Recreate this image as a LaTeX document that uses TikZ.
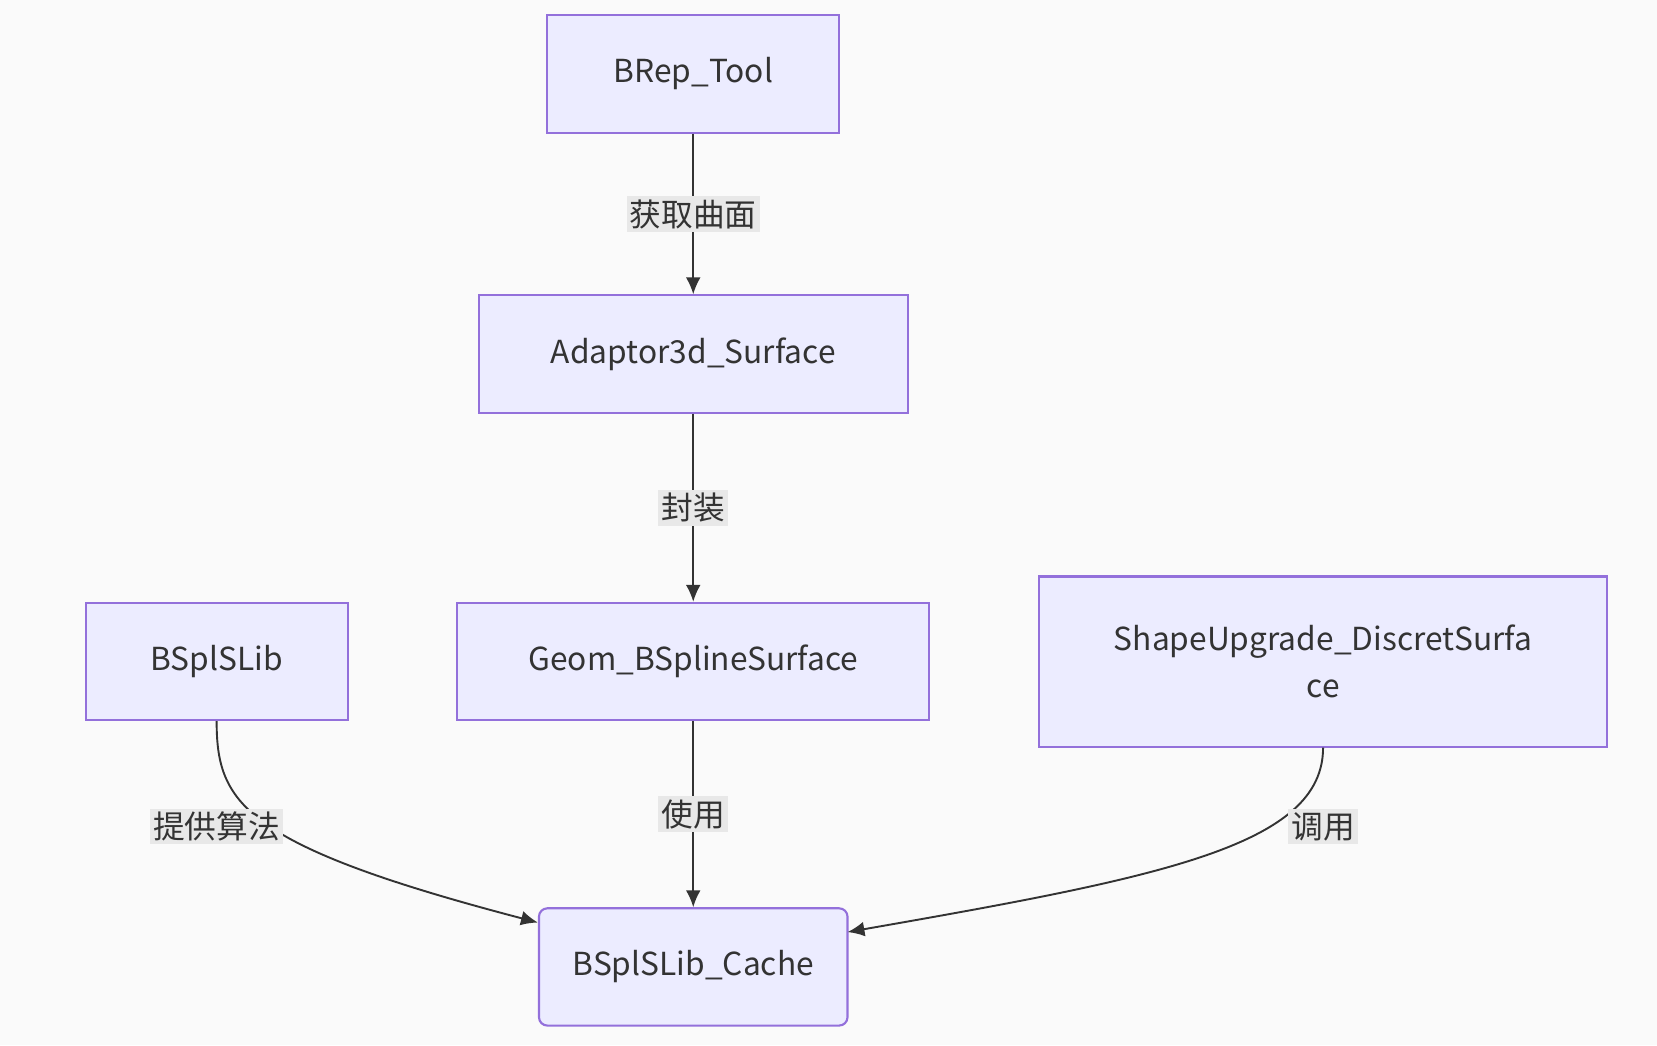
\documentclass[tikz,border=0pt]{standalone}
\usepackage{fontspec}
\setmainfont{Noto Sans CJK SC}
\usetikzlibrary{arrows.meta}
\definecolor{bg}{HTML}{FAFAFA}
\definecolor{nf}{HTML}{ECECFF}
\definecolor{ns}{HTML}{9370DB}
\definecolor{lb}{HTML}{E8E8E8}
\definecolor{ln}{HTML}{333333}
\begin{document}
\begin{tikzpicture}[x=0.5pt,y=-0.5pt,
 box/.style={draw=ns,fill=nf,line width=1pt,minimum height=55.5pt,font=\fontsize{15}{22}\selectfont,text=ln,inner sep=0pt,align=center},
 lab/.style={fill=lb,font=\fontsize{15}{18}\selectfont,text=ln,inner sep=1.5pt},
 arr/.style={draw=ln,line width=0.9pt,-{Latex[length=8pt,width=7pt]}}]
\fill[bg] (0,0) rectangle (1568,989);
\useasboundingbox (0,0) rectangle (1568,989);
\node[box,minimum width=138pt] (brep) at (656,70) {BRep\_Tool};
\node[box,minimum width=203pt] (adap) at (656,335) {Adaptor3d\_Surface};
\node[box,minimum width=223.5pt] (geom) at (656,626) {Geom\_BSplineSurface};
\node[box,minimum width=124pt] (bspl) at (205,626) {BSplSLib};
\node[box,minimum width=269pt,minimum height=80.5pt] (shape) at (1252,626) {ShapeUpgrade\_DiscretSurfa\\ce};
\node[box,minimum width=146pt,rounded corners=4pt] (cache) at (656,915) {BSplSLib\_Cache};
\draw[arr] (brep) -- node[lab]{获取曲面} (adap);
\draw[arr] (adap) -- node[lab]{封装} (geom);
\draw[arr] (geom) -- node[lab]{使用} (cache);
\draw[arr] (bspl.south) .. controls (205,760) and (230,800) .. (cache.west|-0,873) coordinate (c1);
\node[lab] (l1) at (205,782) {提供算法};
\draw[arr] (shape.south) .. controls (1252,800) and (1100,830) .. (802,882) coordinate (c2);
\node[lab] (l2) at (1252,782) {调用};
\end{tikzpicture}
\end{document}
